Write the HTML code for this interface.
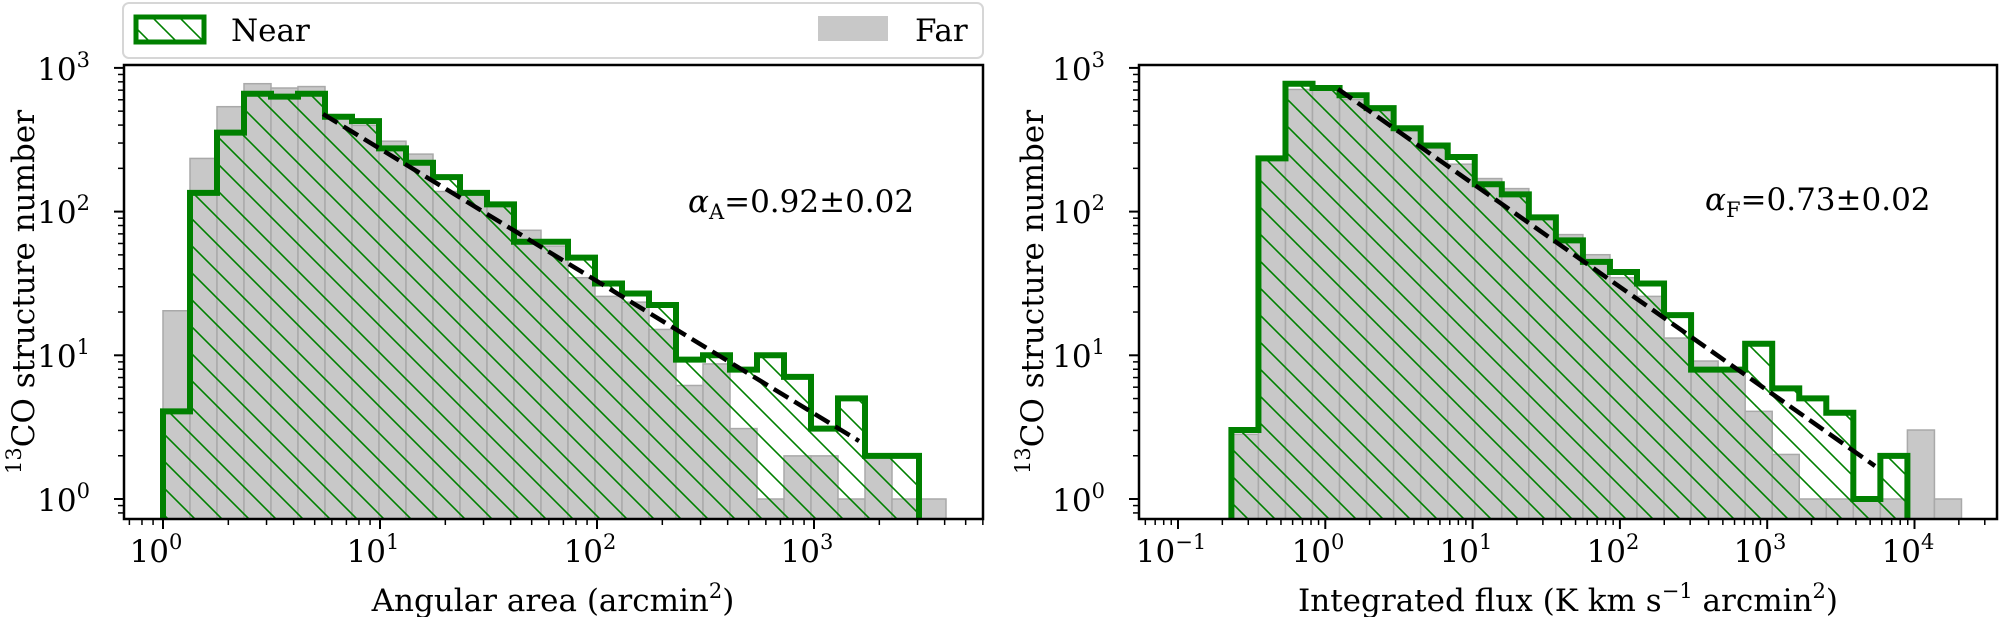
<!DOCTYPE html>
<html><head><meta charset="utf-8">
<style>
html,body{margin:0;padding:0;background:#fff;}
svg{display:block;}
text{font-family:"DejaVu Serif","Liberation Serif",serif;fill:#000;}
</style></head>
<body>
<svg id="s" width="2000" height="617" viewBox="0 0 2000 617" xmlns="http://www.w3.org/2000/svg">
<defs>
<pattern id="h" patternUnits="userSpaceOnUse" width="27" height="27">
<line x1="-2" y1="-2" x2="29" y2="29" stroke="#008000" stroke-width="1.6"/>
<line x1="-29" y1="-2" x2="2" y2="29" stroke="#008000" stroke-width="1.6"/>
<line x1="25" y1="-2" x2="56" y2="29" stroke="#008000" stroke-width="1.6"/>
</pattern>
<clipPath id="c1"><rect x="124" y="65" width="859" height="454"/></clipPath>
<clipPath id="c2"><rect x="1139" y="65" width="858" height="454"/></clipPath>
</defs>
<g id="g1" clip-path="url(#c1)"></g>
<g id="g2" clip-path="url(#c2)"></g>
<g id="ax"></g>

<!-- legend -->
<rect x="123" y="3" width="860" height="55" rx="6" fill="#fff" stroke="#d6d6d6" stroke-width="2"/>
<rect x="136" y="17" width="68" height="25" fill="url(#h)" stroke="#008000" stroke-width="5"/>
<text x="231" y="41" font-size="31">Near</text>
<rect x="818" y="16" width="70" height="25" fill="#c8c8c8"/>
<text x="915" y="41" font-size="31">Far</text>

<!-- annotations -->
<text x="688" y="212" font-size="31"><tspan font-style="italic">α</tspan><tspan font-size="21" dy="7">A</tspan><tspan dy="-7">=0.92±0.02</tspan></text>
<text x="1705" y="210" font-size="31"><tspan font-style="italic">α</tspan><tspan font-size="21" dy="7">F</tspan><tspan dy="-7">=0.73±0.02</tspan></text>

<g font-size="31" text-anchor="middle">
<text x="156" y="562">10<tspan font-size="21" dy="-13">0</tspan></text>
<text x="373" y="562">10<tspan font-size="21" dy="-13">1</tspan></text>
<text x="590" y="562">10<tspan font-size="21" dy="-13">2</tspan></text>
<text x="807" y="562">10<tspan font-size="21" dy="-13">3</tspan></text>
<text x="1171" y="562">10<tspan font-size="21" dy="-13">−1</tspan></text>
<text x="1318" y="562">10<tspan font-size="21" dy="-13">0</tspan></text>
<text x="1466" y="562">10<tspan font-size="21" dy="-13">1</tspan></text>
<text x="1613" y="562">10<tspan font-size="21" dy="-13">2</tspan></text>
<text x="1760" y="562">10<tspan font-size="21" dy="-13">3</tspan></text>
<text x="1908" y="562">10<tspan font-size="21" dy="-13">4</tspan></text>
</g>
<g font-size="31" text-anchor="end">
<text x="90" y="80">10<tspan font-size="21" dy="-13">3</tspan></text>
<text x="90" y="223">10<tspan font-size="21" dy="-13">2</tspan></text>
<text x="90" y="367">10<tspan font-size="21" dy="-13">1</tspan></text>
<text x="90" y="511">10<tspan font-size="21" dy="-13">0</tspan></text>
<text x="1105" y="80">10<tspan font-size="21" dy="-13">3</tspan></text>
<text x="1105" y="223">10<tspan font-size="21" dy="-13">2</tspan></text>
<text x="1105" y="367">10<tspan font-size="21" dy="-13">1</tspan></text>
<text x="1105" y="511">10<tspan font-size="21" dy="-13">0</tspan></text>
</g>
<text x="553" y="611" font-size="31" text-anchor="middle">Angular area (arcmin<tspan font-size="21" dy="-13">2</tspan><tspan dy="13">)</tspan></text>
<text x="1568" y="611" font-size="31" text-anchor="middle">Integrated flux (K km s<tspan font-size="21" dy="-13">−1</tspan><tspan dy="13"> arcmin</tspan><tspan font-size="21" dy="-13">2</tspan><tspan dy="13">)</tspan></text>
<text transform="translate(34,292) rotate(-90)" font-size="31" text-anchor="middle"><tspan font-size="21" dy="-13">13</tspan><tspan dy="13">CO structure number</tspan></text>
<text transform="translate(1043,292) rotate(-90)" font-size="31" text-anchor="middle"><tspan font-size="21" dy="-13">13</tspan><tspan dy="13">CO structure number</tspan></text>
</svg>
<script>
var NS="http://www.w3.org/2000/svg";
function el(p,t,a){var e=document.createElementNS(NS,t);for(var k in a)e.setAttribute(k,a[k]);p.appendChild(e);return e;}
function Y(l){return 499-143.7*l;}
var B=519;
function draw(g,x0,st,far,near,line){
  far.forEach(function(v,k){ if(v==null)return;
    var xa=x0+st*k, y=Y(v);
    el(g,'rect',{x:xa,y:y,width:st,height:B-y+5,fill:'#c8c8c8',stroke:'#a9a9a9','stroke-width':1.5});
  });
  var d='M'+x0+' '+(B+5);
  near.forEach(function(v,k){var y=Y(v);d+=' L'+(x0+st*k)+' '+y+' L'+(x0+st*(k+1))+' '+y;});
  d+=' L'+(x0+st*near.length)+' '+(B+5);
  el(g,'path',{d:d+' Z',fill:'url(#h)',stroke:'none'});
  el(g,'path',{d:d,fill:'none',stroke:'#008000','stroke-width':6,'stroke-linejoin':'miter'});
  el(g,'line',{x1:line[0],y1:line[1],x2:line[2],y2:line[3],stroke:'#000','stroke-width':4.5,'stroke-dasharray':'17,7'});
}
var g1=document.getElementById('g1'),g2=document.getElementById('g2');
var nearL=[0.61,2.13,2.55,2.82,2.80,2.82,2.66,2.63,2.44,2.34,2.24,2.13,2.05,1.79,1.79,1.68,1.50,1.43,1.35,0.97,1.0,0.90,1.0,0.85,0.49,0.70,0.30,0.30];
var farL=[1.31,2.37,2.73,2.89,2.86,2.87,2.67,2.60,2.49,2.40,2.14,2.12,2.04,1.87,1.76,1.54,1.41,1.37,1.18,0.79,0.94,0.49,0,0.30,0.30,0,0.30,0,0];
draw(g1,163,27,farL,nearL,[323,114,859,441]);
var nearR=[0.48,2.37,2.89,2.86,2.81,2.72,2.58,2.46,2.38,2.19,2.12,1.96,1.80,1.65,1.58,1.50,1.28,0.90,0.90,1.08,0.77,0.70,0.60,0,0.30];
var farR=[0.45,2.37,2.85,2.86,2.78,2.70,2.56,2.44,2.33,2.23,2.16,1.97,1.84,1.70,1.54,1.41,1.12,0.96,0.90,0.61,0.31,0,0,0,0,0.48,0];
draw(g2,1231.4,27.04,farR,nearR,[1338,89,1875,466]);
var ax=document.getElementById('ax');
function axes(x1,x2,xc,dec,lmin,lmax){
  el(ax,'rect',{x:x1,y:65,width:x2-x1,height:454,fill:'none',stroke:'#000','stroke-width':2.5});
  for(var e=Math.floor(lmin);e<=lmax;e++){for(var m=1;m<10;m++){var l=e+Math.log10(m);if(l<lmin||l>lmax)continue;
    var x=xc+dec*l;el(ax,'line',{x1:x,y1:B,x2:x,y2:B+(m==1?10:6),stroke:'#000','stroke-width':m==1?2:1.5});}}
  for(var e=-1;e<=3;e++){for(var m=1;m<10;m++){var l=e+Math.log10(m);var y=Y(l);if(y<65||y>B)continue;
    el(ax,'line',{x1:x1,y1:y,x2:x1-(m==1?10:6),y2:y,stroke:'#000','stroke-width':m==1?2:1.5});}}
}
axes(124,983,163,217,-0.18,3.78);
axes(1139,1997,1325.3,147.3,-1.26,4.56);
</script>
</body></html>
